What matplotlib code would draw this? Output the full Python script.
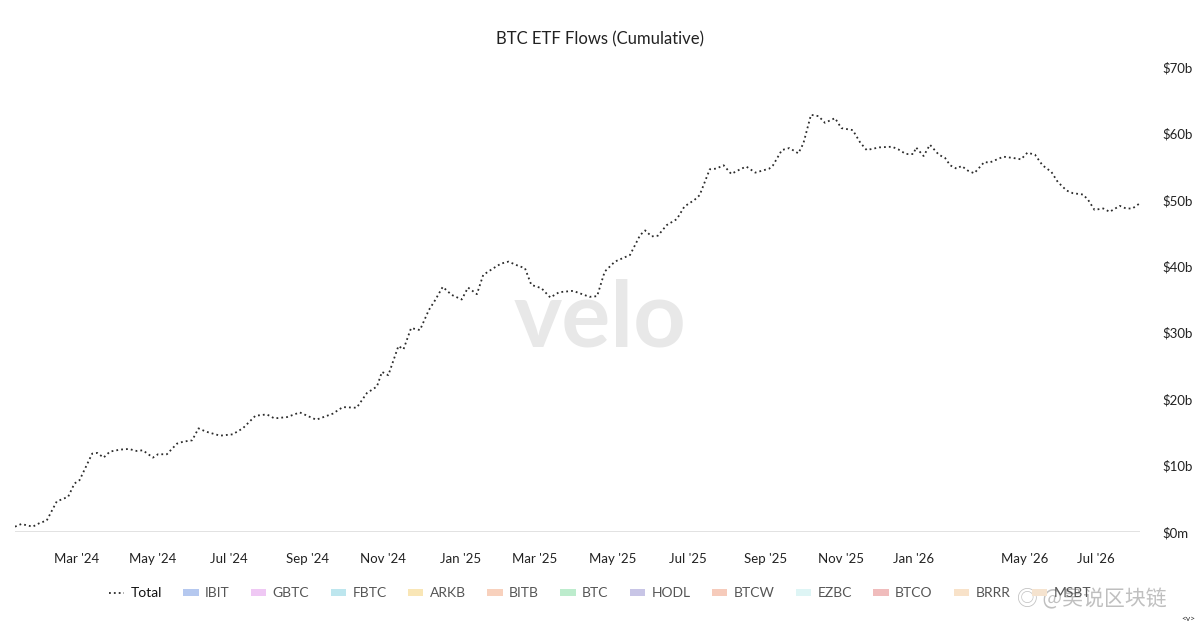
import matplotlib
matplotlib.use("Agg")
import matplotlib.pyplot as plt
from matplotlib.lines import Line2D
from matplotlib.patches import Patch

# cumulative flows (day offset from first session, $b)
days = [0, 5, 14, 20, 25, 33, 42, 47, 51, 61, 65, 70, 75, 83, 90, 96, 101, 109, 113, 120,
        128, 133, 140, 145, 151, 162, 172, 180, 190, 199, 205, 215, 225, 238, 251, 259, 270, 278, 286, 290,
        295, 303, 307, 313, 320, 327, 332, 338, 345, 353, 358, 365, 370, 378, 384, 390, 396, 403, 408, 416,
        423, 430, 441, 454, 460, 466, 474, 486, 494, 498, 503, 508, 515, 523, 529, 537, 541, 549, 554, 560,
        566, 574, 578, 585, 596, 599, 606, 612, 619, 623, 629, 635, 640, 648, 653, 662, 668, 673, 683, 693,
        698, 704, 710, 712, 718, 723, 730, 735, 739, 744, 748, 753, 758, 766, 770, 781, 789, 795, 800, 806,
        812, 819, 824, 831, 836, 844, 848, 853, 860, 865, 873, 878, 883, 889]
total = [0.8, 1.2, 0.8, 1.4, 1.7, 4.6, 5.3, 7.3, 7.8, 11.8, 11.9, 11.2, 12.1, 12.4, 12.5, 12.2, 12.3, 11.2, 11.7, 11.7,
         13.3, 13.6, 13.8, 15.6, 15.1, 14.5, 14.7, 15.6, 17.5, 17.7, 17.1, 17.3, 18.0, 16.9, 17.8, 18.8, 18.7, 20.9, 21.9, 24.1,
         23.6, 28.0, 27.5, 30.7, 30.4, 33.4, 34.9, 36.9, 35.7, 35.0, 36.8, 35.8, 38.7, 39.7, 40.4, 40.7, 40.2, 39.7, 37.2, 36.7,
         35.3, 36.1, 36.3, 35.4, 35.5, 39.2, 40.7, 41.7, 44.7, 45.4, 44.5, 44.6, 46.2, 47.1, 49.0, 50.0, 50.7, 54.6, 54.7, 55.2,
         53.9, 54.7, 55.0, 54.1, 54.7, 55.2, 57.5, 57.8, 57.0, 58.5, 62.8, 62.6, 61.6, 62.3, 60.8, 60.5, 58.6, 57.5, 57.9, 58.0,
         57.6, 56.9, 56.9, 57.9, 56.6, 58.3, 56.8, 56.3, 55.2, 54.7, 55.1, 54.4, 54.0, 55.7, 55.6, 56.5, 56.3, 56.1, 57.1, 56.8,
         55.2, 54.2, 52.7, 51.4, 51.0, 50.8, 50.0, 48.5, 48.7, 48.2, 49.1, 48.7, 48.7, 49.5]

tick_days = [49, 109, 169, 231, 291, 352, 411, 472, 532, 593, 653, 710, 798, 854]
tick_labels = ["Mar '24", "May '24", "Jul '24", "Sep '24", "Nov '24", "Jan '25", "Mar '25",
               "May '25", "Jul '25", "Sep '25", "Nov '25", "Jan '26", "May '26", "Jul '26"]
y_ticks = [0, 10, 20, 30, 40, 50, 60, 70]
y_labels = ["$0m", "$10b", "$20b", "$30b", "$40b", "$50b", "$60b", "$70b"]

funds = ["IBIT", "GBTC", "FBTC", "ARKB", "BITB", "BTC", "HODL", "BTCW", "EZBC", "BTCO", "BRRR", "MSBT"]
fund_colors = ["#b5c8ef", "#efc8f4", "#bde6ee", "#f9e6b6", "#f8d1bd", "#bdeccd", "#c8c5e6",
               "#f6cbbb", "#def5f5", "#f0bcbc", "#f8e2c9", "#f5e3cf"]

plt.rcParams['font.family'] = ['Lato', 'Noto Sans CJK SC', 'DejaVu Sans']

fig = plt.figure(figsize=(12, 6.28), dpi=100)
ax = fig.add_axes([0.0125, 0.1529, 0.9375, 0.7404])

# watermark
ax.text(0.52, 0.455, "velo", transform=ax.transAxes, ha='center', va='center',
        fontsize=66, fontweight='bold', color='#e8e8e8', zorder=0)

ax.plot(days, total, color='#2b2b2b', linewidth=1.3, linestyle=(0, (1, 1.7)), zorder=3)
ax.axhline(0, color='#dddddd', linewidth=1.2, zorder=1)

ax.set_xlim(0, 889)
ax.set_ylim(0, 70)
for s in ax.spines.values():
    s.set_visible(False)

ax.set_xticks(tick_days)
ax.set_xticklabels(tick_labels)
ax.set_yticks(y_ticks)
ax.set_yticklabels(y_labels)
ax.yaxis.tick_right()
ax.tick_params(axis='x', length=0, pad=15, labelsize=9.5, colors='#222222')
ax.tick_params(axis='y', length=0, pad=16, labelsize=9.5, colors='#222222')
for lbl in ax.get_yticklabels():
    lbl.set_horizontalalignment('left')

fig.text(0.5, 0.938, "BTC ETF Flows (Cumulative)", ha='center', va='center', fontsize=12, color='#222222')

handles = [Line2D([0], [0], color='#2b2b2b', linewidth=1.3, linestyle=(0, (1, 1.7)))]
handles += [Patch(facecolor=c, edgecolor='none') for c in fund_colors]
labels = ["Total"] + funds
leg = fig.legend(handles, labels, loc='center', bbox_to_anchor=(0.5, 0.055), ncol=13, frameon=False,
                 fontsize=10, handlelength=1.1, handleheight=0.45, columnspacing=1.55, handletextpad=0.45,
                 labelcolor='#555555')
leg.get_texts()[0].set_color('#111111')

# source watermark, bottom right
fig.text(0.91, 0.045, "◎ @吴说区块链", ha='center', va='center', fontsize=15, color='#b0b0b0', alpha=0.8,
         family=['Noto Sans CJK SC', 'DejaVu Sans'])
fig.text(0.99, 0.015, "<v>", ha='center', va='center', fontsize=6, color='#333333')

fig.savefig("out.png", dpi=100)
plt.close(fig)
